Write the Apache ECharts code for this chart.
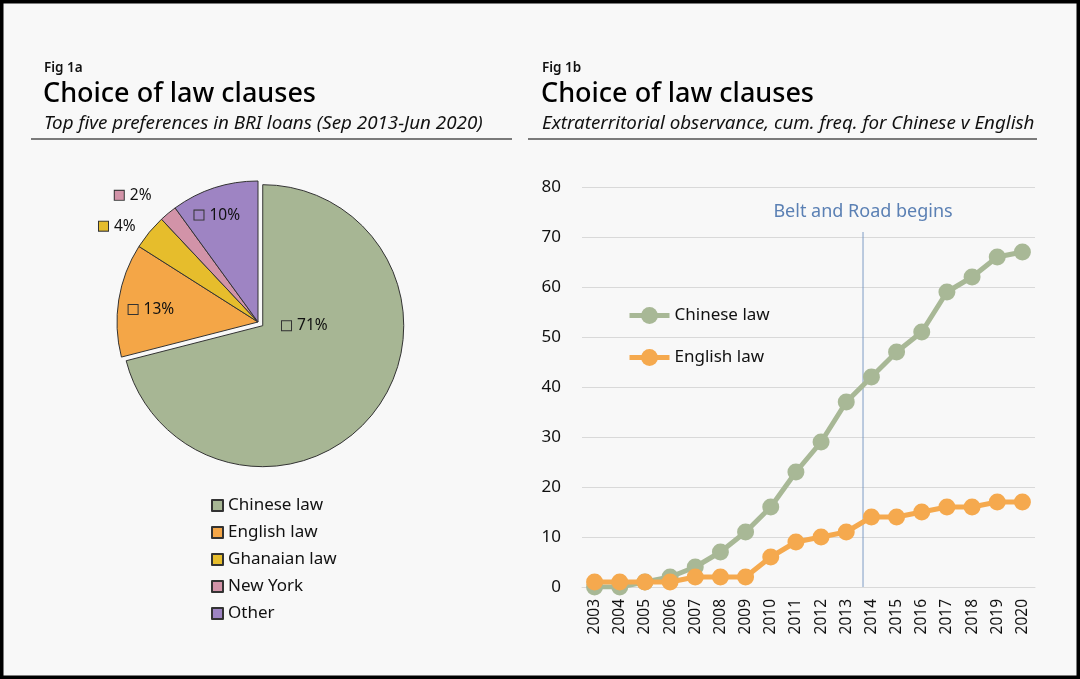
<!DOCTYPE html>
<html>
<head>
<meta charset="utf-8">
<script src="https://cdn.jsdelivr.net/npm/echarts@6/dist/echarts.min.js"></script>
<style>
  html, body { margin: 0; padding: 0; background: #f8f8f8; }
  #main { width: 1080px; height: 679px; }
</style>
</head>
<body>
<div id="main"></div>
<script>
// Fig 1a - share of choice of law clauses (%)
var pieNames = ['Chinese law', 'English law', 'Ghanaian law', 'New York', 'Other'];
var pieValues = [71, 13, 4, 2, 10];
var pieColors = ['#a7b694', '#f4a647', '#e6bd2c', '#d293a8', '#9e84c3'];

// Fig 1b - cumulative frequency by year
var years = ['2003', '2004', '2005', '2006', '2007', '2008', '2009', '2010', '2011',
             '2012', '2013', '2014', '2015', '2016', '2017', '2018', '2019', '2020'];
var chineseLaw = [0, 0, 1, 2, 4, 7, 11, 16, 23, 29, 37, 42, 47, 51, 59, 62, 66, 67];
var englishLaw = [1, 1, 1, 1, 2, 2, 2, 6, 9, 10, 11, 14, 14, 15, 16, 16, 17, 17];
var lineNames = ['Chinese law', 'English law'];
var lineColors = ['#a8b896', '#f5a94e'];
var yTicks = [0, 10, 20, 30, 40, 50, 60, 70, 80];

// Belt and Road start (Sep 2013) as a fractional year
var briStart = 2013 + 8 / 12;
var briTop = 71;

var font = '"Noto Sans", "Open Sans", sans-serif';

var myChart = echarts.init(document.getElementById('main'));

// label nudges so they sit where the original put them
var pieLabelShift = [[-16, -45], [-34, -1], [-84, -49], [-78, -70], [-18, -37]];

var pieData = pieNames.map(function (n, i) {
    return {
        name: n,
        value: pieValues[i],
        selected: i === 0,
        itemStyle: {color: pieColors[i]},
        label: {
            rich: {
                box: {
                    width: 9, height: 9,
                    backgroundColor: pieColors[i],
                    borderColor: '#333', borderWidth: 1
                },
                pct: {fontSize: 15.5, color: '#111', fontFamily: font, padding: [0, 0, 0, 6]}
            }
        }
    };
});

var briX = briStart - Number(years[0]);

var option = {
    backgroundColor: '#f8f8f8',
    textStyle: {fontFamily: font},
    animation: false,
    graphic: [
        {type: 'rect', shape: {x: 0, y: 0, width: 1080, height: 679},
         style: {fill: 'none', stroke: '#000', lineWidth: 7}, silent: true},
        {type: 'text', x: 44, y: 61, style: {text: 'Fig 1a', font: '600 13.5px ' + font, fill: '#111'}},
        {type: 'text', x: 43, y: 81, style: {text: 'Choice of law clauses', font: '500 27px ' + font, fill: '#000'}},
        {type: 'text', x: 44, y: 114, style: {text: 'Top five preferences in BRI loans (Sep 2013-Jun 2020)', font: 'italic 18.8px ' + font, fill: '#111'}},
        {type: 'line', shape: {x1: 31, y1: 139, x2: 512, y2: 139}, style: {stroke: '#7a7a7a', lineWidth: 2}},
        {type: 'text', x: 542, y: 61, style: {text: 'Fig 1b', font: '600 13.5px ' + font, fill: '#111'}},
        {type: 'text', x: 541, y: 81, style: {text: 'Choice of law clauses', font: '500 27px ' + font, fill: '#000'}},
        {type: 'text', x: 542, y: 114, style: {text: 'Extraterritorial observance, cum. freq. for Chinese v English', font: 'italic 18.8px ' + font, fill: '#111'}},
        {type: 'line', shape: {x1: 528, y1: 139, x2: 1037, y2: 139}, style: {stroke: '#7a7a7a', lineWidth: 2}}
    ],
    legend: [
        {
            data: pieNames,
            orient: 'vertical',
            left: 211, top: 497,
            padding: 0,
            itemWidth: 11, itemHeight: 11, itemGap: 10,
            icon: 'rect',
            selectedMode: false,
            textStyle: {fontSize: 17, color: '#111'}
        },
        {
            data: lineNames.map(function (n) { return n + ' (cum.)'; }),
            formatter: function (n) { return n.replace(' (cum.)', ''); },
            orient: 'vertical',
            left: 627, top: 307,
            padding: 0,
            itemWidth: 40, itemHeight: 21, itemGap: 25,
            lineStyle: {width: 5},
            selectedMode: false,
            textStyle: {fontSize: 17, color: '#111'}
        }
    ],
    grid: {left: 582, right: 45, top: 187, bottom: 92},
    xAxis: [
        {
            type: 'category',
            data: years,
            boundaryGap: true,
            axisLine: {lineStyle: {color: '#d9d9d9', width: 1}},
            axisTick: {show: false},
            axisLabel: {rotate: 90, fontSize: 15.5, color: '#111', margin: 12}
        },
        {
            type: 'value', min: -0.5, max: years.length - 0.5, show: false
        }
    ],
    yAxis: {
        type: 'value',
        min: yTicks[0], max: yTicks[yTicks.length - 1], interval: 10,
        axisLine: {show: false},
        axisTick: {show: false},
        splitLine: {lineStyle: {color: '#d9d9d9', width: 1}},
        axisLabel: {fontSize: 17, color: '#111', margin: 21}
    },
    series: [
        {
            type: 'pie',
            center: [258, 322],
            radius: 141,
            startAngle: 90,
            clockwise: true,
            selectedMode: 'single',
            selectedOffset: 6,
            avoidLabelOverlap: false,
            itemStyle: {borderColor: '#333', borderWidth: 1},
            emphasis: {disabled: true},
            label: {
                show: true,
                position: 'inside',
                formatter: '{box|}{pct|{c}%}'
            },
            labelLine: {show: false},
            labelLayout: function (p) {
                var s = pieLabelShift[p.dataIndex];
                return {dx: s[0], dy: s[1]};
            },
            data: pieData
        },
        {
            type: 'line',
            xAxisIndex: 1,
            data: [[briX, 0], {
                value: [briX, briTop],
                label: {
                    show: true, position: 'top', distance: 11,
                    formatter: 'Belt and Road begins',
                    color: '#5b80b4', fontSize: 18
                }
            }],
            symbol: 'circle',
            symbolSize: 1,
            showSymbol: true,
            itemStyle: {color: 'rgba(0,0,0,0)'},
            lineStyle: {color: '#7f9cc6', width: 1},
            silent: true,
            z: 1
        },
        {
            name: lineNames[0] + ' (cum.)',
            type: 'line',
            data: chineseLaw,
            color: lineColors[0],
            symbol: 'circle',
            symbolSize: 17,
            lineStyle: {width: 5},
            z: 2
        },
        {
            name: lineNames[1] + ' (cum.)',
            type: 'line',
            data: englishLaw,
            color: lineColors[1],
            symbol: 'circle',
            symbolSize: 17,
            lineStyle: {width: 5},
            z: 3
        }
    ]
};

myChart.setOption(option);
</script>
</body>
</html>
